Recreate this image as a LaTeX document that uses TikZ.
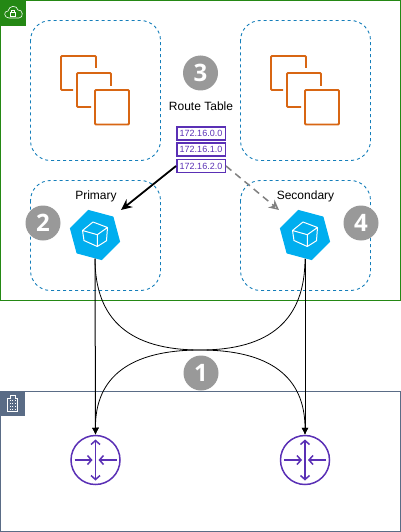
\documentclass[tikz,border=0pt]{standalone}
\usepackage{fontspec}
\setmainfont{Liberation Sans}
\newfontfamily\numfont{Open Sans}
\usetikzlibrary{arrows.meta,shapes.geometric}
\definecolor{vpcgreen}{HTML}{248814}
\definecolor{corpblue}{HTML}{5A6C86}
\definecolor{subnetblue}{HTML}{147EBA}
\definecolor{ecorange}{HTML}{D86613}
\definecolor{rtpurple}{HTML}{5A30B5}
\definecolor{gwblue}{HTML}{00AEEF}
\newcommand{\routerglyph}[1]{%
  \draw[rtarrow, {Straight Barb[length=4pt,width=9pt]}-{Straight Barb[length=4pt,width=9pt]}] ([yshift=-20.5pt]#1.center) -- ([yshift=20.5pt]#1.center);
  \draw[rtarrow, -{Straight Barb[length=4pt,width=9pt]}] ([xshift=-21pt]#1.center) -- ([xshift=-3pt]#1.center);
  \draw[rtarrow, -{Straight Barb[length=4pt,width=9pt]}] ([xshift=21pt]#1.center) -- ([xshift=3pt]#1.center);
}
\begin{document}
\begin{tikzpicture}[
  x=1pt, y=-1pt,
  subnet/.style={draw=subnetblue, dash pattern=on 3pt off 3pt, rounded corners=20pt, line width=0.9pt},
  inst/.style={draw=ecorange, line width=1.8pt, rounded corners=1pt},
  badge/.style={circle, fill=black!40, text=white, minimum size=35pt, inner sep=0pt, font=\numfont\bfseries\fontsize{24}{24}\selectfont},
  rtrow/.style={draw=rtpurple, line width=1.5pt, text=rtpurple, minimum width=48.5pt, minimum height=13pt, inner sep=0pt, font=\fontsize{9}{10}\selectfont},
  lbl/.style={font=\fontsize{12}{14}\selectfont},
  gw/.style={regular polygon, regular polygon sides=6, shape border rotate=-15, fill=gwblue, minimum size=52pt, inner sep=0pt},
  router/.style={circle, draw=rtpurple, line width=1.5pt, minimum size=49pt, inner sep=0pt},
  rtarrow/.style={draw=rtpurple, line width=1.5pt},
  link/.style={-{Latex[length=7pt,width=7pt]}, line width=1pt},
  curvelink/.style={-{Latex[length=7pt,width=7pt]}, line width=0.8pt},
  active/.style={-{Stealth[length=11pt,width=10pt]}, line width=1.8pt},
  standby/.style={-{Stealth[length=10pt,width=10pt,open,fill=white]}, draw=black!50, line width=1.5pt, dash pattern=on 7pt off 5pt}
]
\useasboundingbox (0,0) rectangle (401,532);
% ---------------- outer boxes ----------------
\draw[vpcgreen, line width=1.2pt] (0.5,0.7) rectangle (400.5,300.5);
\fill[vpcgreen] (0,0) rectangle (26,26);
\draw[white, line width=0.6pt] (9,18) .. controls (4,18) and (3,11) .. (8,11) .. controls (9,5) and (17,5) .. (18,10) .. controls (23,9) and (24,18) .. (19,18) -- cycle;
\draw[white, line width=0.5pt] (10.5,12) rectangle (15.5,16) (11.5,12) -- (11.5,10.5) -- (14.5,10.5) -- (14.5,12);
\draw[corpblue, line width=0.8pt] (0.5,391) rectangle (400.5,531);
\fill[corpblue] (0,391) rectangle (25,416);
\draw[white, line width=0.5pt] (7.5,411) -- (7.5,398) -- (10,398) -- (10,395) -- (15,395) -- (15,398) -- (17.5,398) -- (17.5,411) -- cycle;
\foreach \bx in {10,12.5,15} \foreach \by in {400,403,406,409} \fill[white] (\bx-0.5,\by-0.5) rectangle (\bx+0.5,\by+0.5);
% ---------------- subnets and instances ----------------
\foreach \dx in {0,210} {
  \draw[subnet] (30.5+\dx,20.5) rectangle (160.5+\dx,160.5);
  \draw[subnet] (30.5+\dx,180.5) rectangle (160.5+\dx,290.5);
  \draw[inst] (96+\dx,68) -- (96+\dx,56) -- (61+\dx,56) -- (61+\dx,90) -- (73+\dx,90);
  \draw[inst] (111+\dx,86) -- (111+\dx,73) -- (77+\dx,73) -- (77+\dx,107) -- (91+\dx,107);
  \draw[inst] (95+\dx,90) rectangle (129+\dx,124.5);
}
% ---------------- gateways and routers ----------------
\node[gw] (gwprimary) at (95,235) {};
\node[gw] (gwsecondary) at (305,235) {};
\foreach \dx in {0,210} {
  \draw[white, line width=1pt, line join=round] (82.5+\dx,230.5) -- (93+\dx,222) -- (107.5+\dx,227.5) -- (106.5+\dx,240.7) -- (97.3+\dx,246.5) -- (84+\dx,240.5) -- cycle (82.5+\dx,230.5) -- (97.3+\dx,234.7) -- (107.5+\dx,227.5) (97.3+\dx,234.7) -- (97.3+\dx,246.5);
}
\node[router] (rtleft) at (95.5,460) {};
\node[router] (rtright) at (305,460) {};
\routerglyph{rtleft}
\routerglyph{rtright}
% ---------------- route table ----------------
\node[lbl] (rtlabel) at (201,106) {Route Table};
\node[rtrow] (row0) at (201,133.5) {172.16.0.0};
\node[rtrow] (row1) at (201,149.5) {172.16.1.0};
\node[rtrow] (row2) at (201,166) {172.16.2.0};
\node[lbl] (primary) at (96,196) {Primary};
\node[lbl] (secondary) at (305.5,196) {Secondary};
\coordinate (activeend) at (121,210);
\coordinate (standbyend) at (279,210);
\draw[active] (row2.west) -- (activeend);
\draw[standby] (row2.east) -- (standbyend);
% ---------------- links ----------------
\coordinate (crossing) at (200,350);
\draw[link] (gwprimary.south) -- (rtleft.north);
\draw[link] (gwsecondary.south) -- (rtright.north);
\draw[curvelink] (gwprimary.south) .. controls (95,320) and (130,350) .. (crossing) .. controls (270,350) and (305,377) .. (rtright.north);
\draw[curvelink] (gwsecondary.south) .. controls (305,320) and (270,350) .. (crossing) .. controls (130,350) and (95,377) .. (rtleft.north);
% ---------------- badges ----------------
\node[badge] (b1) at (201,373) {1};
\node[badge] (b2) at (43,223) {2};
\node[badge] (b3) at (200.5,73) {3};
\node[badge] (b4) at (361,223) {4};
\end{tikzpicture}
\end{document}
